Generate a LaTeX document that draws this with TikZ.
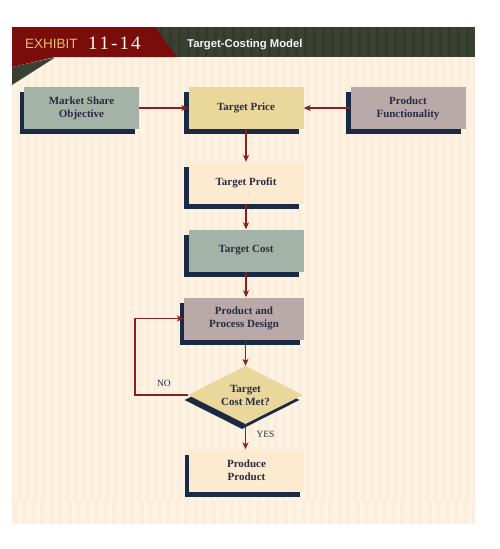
\documentclass[tikz,border=0pt]{standalone}
\usepackage{fontspec}
\setmainfont{Liberation Serif}
\newfontfamily\hsans{Liberation Sans}
\usetikzlibrary{shapes.geometric,shadows,arrows.meta}
\definecolor{bgcream}{HTML}{FCEEDA}
\definecolor{bgstripe}{HTML}{FEF4E6}
\definecolor{hdrgreen}{HTML}{3A4131}
\definecolor{hdrstripe}{HTML}{33392B}
\definecolor{hdrred}{HTML}{7A0C0C}
\definecolor{gold}{HTML}{E8BE6E}
\definecolor{navy}{HTML}{1B2A44}
\definecolor{txt}{HTML}{2C2C40}
\definecolor{arrowred}{HTML}{8B1E1E}
\definecolor{sage}{HTML}{A3B3A7}
\definecolor{sand}{HTML}{E9D79B}
\definecolor{mauve}{HTML}{B9A9A9}
\definecolor{paper}{HTML}{FDEBD1}
\begin{document}
\begin{tikzpicture}[x=1pt,y=-1pt,
  box/.style={minimum width=115pt, minimum height=42pt, inner sep=2pt, align=center,
    font=\fontsize{11}{13}\selectfont\bfseries, text=txt,
    drop shadow={opacity=1, fill=navy, shadow xshift=-4.5pt, shadow yshift=-5pt}},
  decision/.style={diamond, aspect=2, inner sep=0pt, minimum width=115pt, minimum height=58pt,
    align=center, font=\fontsize{11}{13}\selectfont\bfseries, text=txt, fill=sand,
    drop shadow={opacity=1, fill=navy, shadow xshift=-3.5pt, shadow yshift=-5pt}},
  arr/.style={draw=arrowred, line width=1.1pt, -{Stealth[length=7pt,width=6pt,inset=2pt]}},
  lbl/.style={font=\fontsize{9.5}{11}\selectfont, text=txt}]
\useasboundingbox (0,0) rectangle (500,549);
\fill[white] (0,0) rectangle (500,549);
% cream background with stripes
\fill[bgcream] (12,57) rectangle (475,524);
\foreach \x in {14,22,...,470} \fill[bgstripe] (\x,57) rectangle ({\x+3},500);
\foreach \x in {18,27,...,470} \fill[bgstripe] (\x,500) rectangle ({\x+4},524);
% header bar
\fill[hdrgreen] (12,27) rectangle (475,57);
\foreach \x in {160,169,...,470} \fill[hdrstripe] (\x,27) rectangle ({\x+3},57);
\fill[hdrred] (12,27) -- (155,27) -- (177,57) -- (55,57) -- (12,67) -- cycle;
\fill[hdrgreen] (12,67) -- (55,57.5) -- (12,85) -- cycle;
\node[anchor=base west, inner sep=0pt, text=gold, font=\hsans\fontsize{13.5}{13.5}\selectfont] (exh) at (25,48) {EXHIBIT};
\node[anchor=base west, inner sep=0pt, text=white!92!yellow, font=\fontsize{19}{19}\selectfont] (num) at (88,49) {1\kern2pt1\kern2pt-\kern2pt1\kern2pt4};
\node[anchor=base west, inner sep=0pt, text=white!92!gray, font=\hsans\bfseries\fontsize{11.3}{12}\selectfont] (ttl) at (187,47) {Target-Costing Model};
% boxes
\node[box, fill=sage] (ms) at (81.5,108) {Market Share\\Objective};
\node[box, fill=sand] (tp) at (246,108) {Target Price};
\node[box, fill=mauve] (pf) at (408,108) {Product\\Functionality};
\node[box, fill=paper] (tpr) at (246,183) {Target Profit};
\node[box, fill=sage] (tc) at (246,250.5) {Target Cost};
\node[box, fill=mauve, minimum width=120pt] (ppd) at (244,318.5) {Product and\\Process Design};
\node[decision] (dm) at (245.5,395) {Target\\Cost Met?};
\node[box, fill=paper] (pp) at (246.5,470.5) {Produce\\Product};
% connectors
\coordinate (lc) at (135,395);
\draw[arr] (ms) -- (tp);
\draw[arr] (pf) -- (tp);
\draw[arr] (tp) -- (tpr);
\draw[arr] (tpr) -- (tc);
\draw[arr] (tc.south) -- (tc.south |- ppd.north);
\draw[arr] (ppd.south -| dm.north) -- (dm.north);
\draw[arr] (dm.south) -- (pp.north -| dm.south);
\draw[arr] (dm.west) -- (lc) -- (lc |- ppd.west) -- (ppd.west);
\node[lbl, anchor=base] (no) at (164,386) {NO};
\node[lbl, anchor=base] (yes) at (265.5,437) {YES};
\end{tikzpicture}
\end{document}
